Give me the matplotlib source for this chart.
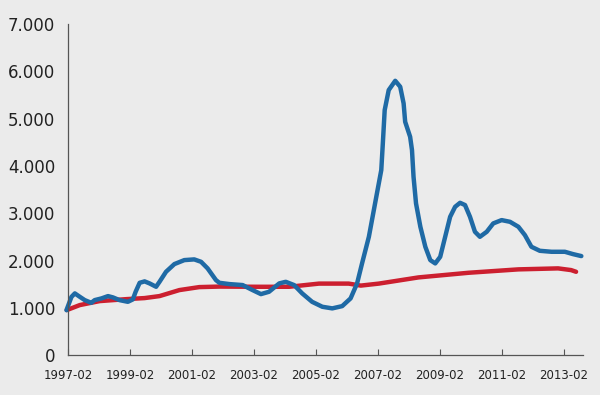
import matplotlib
matplotlib.use("Agg")
import numpy as np
from matplotlib import pyplot as plt
from matplotlib.ticker import FuncFormatter

# decimal years, values
blue_x = [1997.04, 1997.20, 1997.31, 1997.47, 1997.63, 1997.84, 1997.95, 1998.17,
          1998.38, 1998.54, 1998.75, 1999.02, 1999.18, 1999.27, 1999.40, 1999.56,
          1999.72, 1999.93, 2000.04, 2000.25, 2000.52, 2000.84, 2001.16, 2001.38,
          2001.59, 2001.86, 2001.97, 2002.29, 2002.72, 2003.04, 2003.31, 2003.57,
          2003.90, 2004.11, 2004.38, 2004.64, 2004.96, 2005.29, 2005.61, 2005.93,
          2006.20, 2006.41, 2006.57, 2006.79, 2007.05, 2007.19, 2007.24, 2007.30,
          2007.43, 2007.64, 2007.80, 2007.91, 2007.96, 2008.12, 2008.18, 2008.23,
          2008.31, 2008.45, 2008.61, 2008.77, 2008.93, 2009.09, 2009.25, 2009.41,
          2009.57, 2009.73, 2009.89, 2010.05, 2010.21, 2010.37, 2010.59, 2010.80,
          2011.07, 2011.34, 2011.61, 2011.82, 2012.03, 2012.30, 2012.68, 2013.11,
          2013.37, 2013.64]
blue_y = [950, 1230, 1305, 1233, 1163, 1106, 1163, 1199,
          1248, 1220, 1163, 1127, 1178, 1339, 1529, 1559,
          1516, 1445, 1550, 1762, 1925, 2009, 2024, 1973,
          1834, 1586, 1529, 1502, 1481, 1375, 1290, 1339,
          1516, 1550, 1481, 1305, 1127, 1022, 988, 1036,
          1199, 1516, 1939, 2502, 3420, 3913, 4477, 5182,
          5605, 5801, 5675, 5323, 4934, 4617, 4336, 3771,
          3208, 2714, 2291, 2009, 1939, 2079, 2502, 2925,
          3136, 3221, 3173, 2925, 2608, 2502, 2608, 2785,
          2855, 2819, 2714, 2538, 2291, 2206, 2185, 2185,
          2136, 2094]

red_x = [1997.05, 1997.47, 1998.11, 1998.98, 1999.56, 2000.04, 2000.68, 2001.32,
         2001.97, 2003.25, 2004.22, 2005.18, 2006.14, 2006.53, 2007.11, 2008.39,
         2010.00, 2011.61, 2012.89, 2013.31, 2013.47]
red_y = [952, 1058, 1142, 1184, 1206, 1248, 1375, 1438,
         1449, 1445, 1445, 1512, 1512, 1470, 1512, 1643,
         1741, 1813, 1834, 1798, 1762]

tick_years = list(range(1997, 2014, 2))
tick_labels = [f"{y}-02" for y in tick_years]

bg = "#ebebeb"
fig = plt.figure(figsize=(6, 3.95), dpi=100, facecolor=bg)
ax = fig.add_axes([0.113, 0.101, 0.859, 0.838], facecolor=bg)

ax.plot(red_x, red_y, color="#cc1f2f", lw=3.2, solid_capstyle="round",
        solid_joinstyle="round", clip_on=False)
ax.plot(blue_x, blue_y, color="#1f6aa5", lw=3.2, solid_capstyle="round",
        solid_joinstyle="round", clip_on=False)

ax.set_xlim(1997 + 1 / 12, 2013.70)
ax.set_ylim(0, 7000)
ax.set_xticks([y + 1 / 12 for y in tick_years])
ax.set_xticklabels(tick_labels, fontsize=8.5, color="#222222")
ax.set_yticks(np.arange(0, 7001, 1000))
ax.yaxis.set_major_formatter(FuncFormatter(lambda v, p: f"{v:,.0f}".replace(",", ".")))
ax.tick_params(axis="y", length=0, pad=9, labelsize=12, labelcolor="#222222")
ax.tick_params(axis="x", direction="in", length=4, pad=10, color="#555555")

for s in ["top", "right"]:
    ax.spines[s].set_visible(False)
for s in ["left", "bottom"]:
    ax.spines[s].set_color("#555555")
    ax.spines[s].set_linewidth(0.9)

fig.savefig("out.png", dpi=100, facecolor=bg)
